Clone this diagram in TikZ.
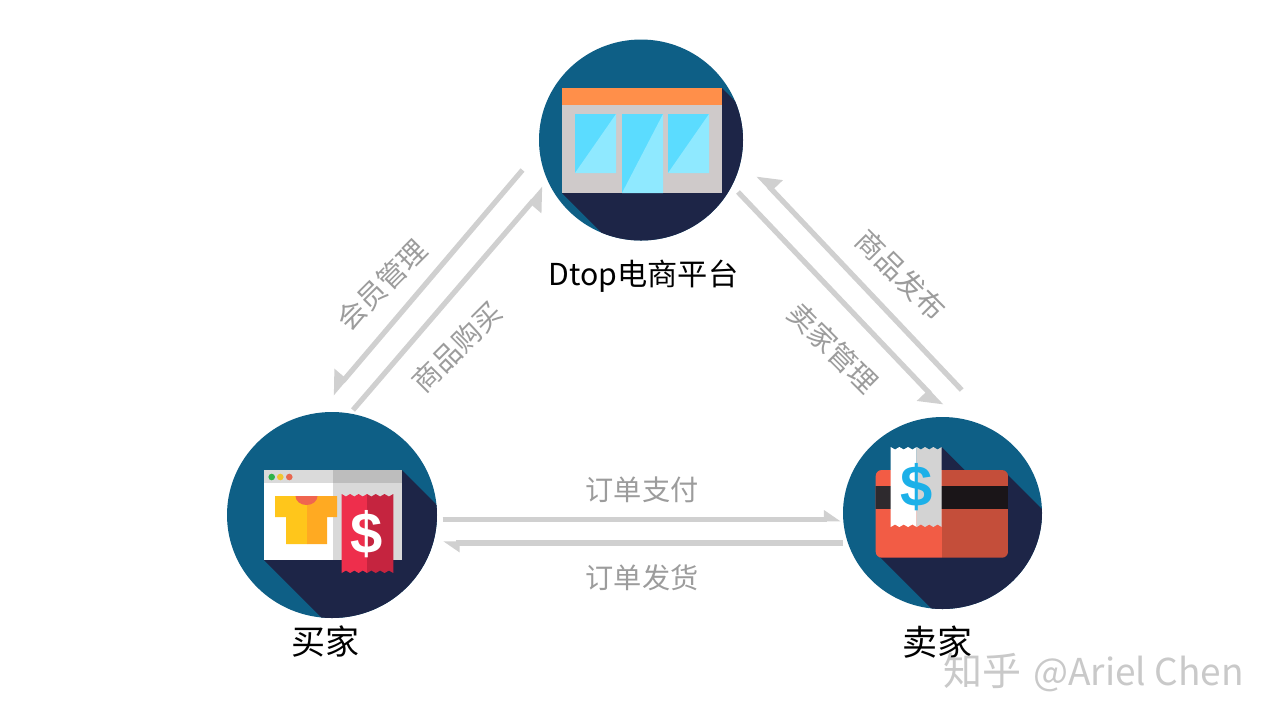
\documentclass[tikz,border=0pt]{standalone}
\usepackage{fontspec}
\setmainfont{Noto Sans CJK SC}
\newfontfamily\dollarfont{Liberation Sans}[BoldFont={Liberation Sans Bold}]
\usetikzlibrary{arrows.meta,shapes.geometric}
\definecolor{teal}{HTML}{0E5F86}
\definecolor{navy}{HTML}{1D2547}
\definecolor{lnk}{HTML}{D0D0D0}
\definecolor{lbl}{HTML}{9C9C9C}
\definecolor{wallgrey}{HTML}{CFCACA}
\definecolor{awning}{HTML}{FF8F4A}
\definecolor{glass}{HTML}{5BDCFF}
\definecolor{glassl}{HTML}{8FE9FF}
\definecolor{barl}{HTML}{DADADA}
\definecolor{barr}{HTML}{BDBDBD}
\definecolor{paner}{HTML}{D9D9D9}
\definecolor{dotg}{HTML}{2DB34A}
\definecolor{doty}{HTML}{F2C531}
\definecolor{doto}{HTML}{E8674F}
\definecolor{shirtl}{HTML}{FFC61B}
\definecolor{shirtr}{HTML}{FFAA22}
\definecolor{neck}{HTML}{F0654F}
\definecolor{recl}{HTML}{EE2E4C}
\definecolor{recr}{HTML}{C5243F}
\definecolor{cardl}{HTML}{F25C45}
\definecolor{cardr}{HTML}{C44E3A}
\definecolor{stripel}{HTML}{2E2A2E}
\definecolor{striper}{HTML}{1A1518}
\definecolor{slipr}{HTML}{D3D3D3}
\definecolor{dollarblue}{HTML}{1CB0E8}
\definecolor{wmark}{HTML}{C9C9C9}
\tikzset{
  disc/.style={ellipse,fill=teal,inner sep=0pt},
  lineL/.style={line width=2.6pt,draw=lnk},
  harpR/.style={lineL,-{Triangle[right,length=9pt,width=14pt]}},
  flatL/.style={lineL,-{Triangle[left,length=7pt,width=9pt]}},
  edgelabel/.style={text=lbl,font=\fontsize{14.1}{16}\selectfont,inner sep=0pt},
  dollar/.style={font=\dollarfont\bfseries\fontsize{29}{29}\selectfont,inner sep=0pt}
}
% x0 x1 ytop ybot colour teeth
\newcommand{\receipthalf}[6]{%
  \pgfmathsetmacro{\toothw}{(#2-#1)/#6}
  \fill[#5] (#1,#3) \foreach \k in {1,...,#6}{ -- ++({\toothw/2},2.5) -- ++({\toothw/2},-2.5)}
    -- (#2,#4) \foreach \k in {1,...,#6}{ -- ++({-\toothw/2},-2.5) -- ++({-\toothw/2},2.5)} -- cycle;
}
\begin{document}
\begin{tikzpicture}[x=0.5pt,y=-0.5pt]
\useasboundingbox[fill=white] (0,0) rectangle (1280,720);

% ---------- platform ----------
\node[disc,minimum width=102pt,minimum height=100.5pt] (platform) at (641,140) {};
\begin{scope}
  \clip (641,140) ellipse [x radius=102,y radius=100.5];
  \fill[navy] (722,88) -- (842,208) -- (842,300) -- (669,300) -- (562,193) -- cycle;
\end{scope}
\fill[wallgrey] (562,105) rectangle (722,193);
\fill[awning] (562,88) rectangle (722,105);
\foreach \xa/\xb/\yb in {575/616/173,622/663/193,668/709/173}{
  \fill[glass] (\xa,114) rectangle (\xb,\yb);
  \fill[glassl] (\xb,114) -- (\xa,\yb) -- (\xb,\yb) -- cycle;
}

% ---------- buyer ----------
\node[disc,minimum width=105pt,minimum height=103pt] (buyer) at (332,515) {};
\begin{scope}
  \clip (332,515) ellipse [x radius=105,y radius=103];
  \fill[navy] (402,470) -- (452,520) -- (452,650) -- (354,650) -- (264,560) -- cycle;
\end{scope}
\fill[white] (264,483) rectangle (333,560);
\fill[paner] (333,483) rectangle (402,560);
\fill[barl] (264,470) rectangle (333,483);
\fill[barr] (333,470) rectangle (402,483);
\fill[dotg] (271.7,477) circle [radius=3.3];
\fill[doty] (280.3,477) circle [radius=3.3];
\fill[doto] (289.3,477) circle [radius=3.3];
\fill[shirtl] (275,496) -- (275,517) -- (286,517) -- (286,544) -- (307,544) -- (307,496) -- cycle;
\fill[shirtr] (307,496) -- (337,496) -- (337,517) -- (327,517) -- (327,544) -- (307,544) -- cycle;
\begin{scope}
  \clip (280,496) rectangle (335,520);
  \fill[neck] (306.5,496) ellipse [x radius=11,y radius=9];
\end{scope}
\receipthalf{341.7}{367}{494}{573}{recl}{3}
\receipthalf{367}{393.3}{494}{573}{recr}{3}
\node[dollar,text=white] (buyerdollar) at (367,534) {\$};

% ---------- seller ----------
\node[disc,minimum width=99.5pt,minimum height=96pt] (seller) at (942.5,513) {};
\begin{scope}
  \clip (942.5,513) ellipse [x radius=99.5,y radius=96];
  \fill[navy] (941.7,447) -- (964.7,470) -- (1003,470) -- (1075,542) -- (1075,650) -- (973,650) -- (880,557) -- cycle;
  \begin{scope}
    \clip[rounded corners=3pt] (875.7,470) rectangle (1008,557.7);
    \fill[cardl] (875,470) rectangle (941.7,558);
    \fill[cardr] (941.7,470) rectangle (1009,558);
    \fill[stripel] (875,485.7) rectangle (941.7,509.3);
    \fill[striper] (941.7,485.7) rectangle (1009,509.3);
  \end{scope}
\end{scope}
\receipthalf{890.7}{916.7}{447}{527}{white}{3}
\receipthalf{916.7}{941.7}{447}{527}{slipr}{3}
\node[dollar,text=dollarblue] (sellerdollar) at (916.7,487) {\$};

% ---------- connector ends ----------
\coordinate (mA) at (522.5,170);  \coordinate (mB) at (332,394);
\coordinate (pA) at (353,410);    \coordinate (pB) at (544,188);
\coordinate (rA) at (961.7,390);  \coordinate (rB) at (758,175);
\coordinate (sA) at (738,192);    \coordinate (sB) at (941.7,406);
\coordinate (oA) at (442.7,519.5);\coordinate (oB) at (840.7,519.5);
\coordinate (dA) at (843,543);    \coordinate (dB) at (443,543);

\draw[harpR] (mA) -- (mB);
\draw[harpR] (pA) -- (pB);
\draw[harpR] (rA) -- (rB);
\draw[harpR] (sA) -- (sB);
\draw[flatL] (oA) -- (oB);
\draw[flatL] (dA) -- (dB);

% ---------- labels ----------
\node[edgelabel,rotate=45] (l1) at (381.5,285) {会员管理};
\node[edgelabel,rotate=45] (l2) at (457,347) {商品购买};
\node[edgelabel,rotate=-45] (l3) at (901,275) {商品发布};
\node[edgelabel,rotate=-45] (l4) at (833,348) {卖家管理};
\node[edgelabel] (l5) at (642,490) {订单支付};
\node[edgelabel] (l6) at (642,578) {订单发货};
\node[text=black,font=\fontsize{15.1}{18}\selectfont,inner sep=0pt] (t1) at (643.5,276) {Dtop电商平台};
\node[text=black,font=\fontsize{17}{18}\selectfont,inner sep=0pt] (t2) at (325,641) {买家};
\node[text=black,font=\fontsize{17.5}{18}\selectfont,inner sep=0pt] (t3) at (937.5,642) {卖家};
\node[text=wmark,font=\fontsize{18.5}{20}\selectfont,inner sep=0pt,anchor=west] (wm) at (943,672) {{\fontsize{19.5}{20}\selectfont 知乎}\hspace{6pt}@Ariel Chen};
\end{tikzpicture}
\end{document}
